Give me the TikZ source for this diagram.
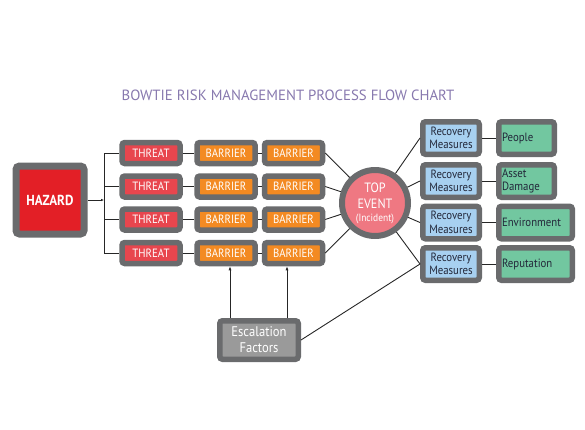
\documentclass[tikz,border=0pt]{standalone}
\usepackage{fontspec}
\setmainfont{PT Sans}
\newfontfamily\condfont[FakeStretch=0.9]{PT Sans}
\usetikzlibrary{arrows.meta}

\definecolor{framegray}{HTML}{6A6B6D}
\definecolor{hazardred}{HTML}{E31F26}
\definecolor{threatred}{HTML}{E8464E}
\definecolor{barrierorange}{HTML}{F38A22}
\definecolor{eventpink}{HTML}{EF7882}
\definecolor{recblue}{HTML}{A7D0F0}
\definecolor{conseqgreen}{HTML}{72C7A0}
\definecolor{escgray}{HTML}{9A9A9A}
\definecolor{titlepurple}{HTML}{8778AE}
\definecolor{darktext}{HTML}{23283A}

\tikzset{
  box/.style={draw=framegray, line width=5.5pt, rounded corners=2.75pt, inner sep=0pt,
    minimum width=58pt, minimum height=21pt, text=white,
    font=\condfont\fontsize{12}{13}\selectfont},
  threat/.style={box, fill=threatred},
  barrier/.style={box, fill=barrierorange},
  recovery/.style={box, fill=recblue, text=darktext, align=center,
    minimum width=56.5pt, minimum height=32.5pt, font=\condfont\fontsize{12}{13.5}\selectfont},
  conseq/.style={box, fill=conseqgreen, text=darktext, align=left, text width=49pt,
    minimum width=55.5pt, minimum height=32.5pt, font=\condfont\fontsize{12}{13.5}\selectfont},
  wideconseq/.style={conseq, text width=67pt, minimum width=73.5pt},
  link/.style={draw=black!85, line width=0.9pt},
  uparrow/.style={link, -{Latex[length=4pt,width=3pt]}}
}

\begin{document}
\begin{tikzpicture}[x=1pt, y=-1pt]

  \useasboundingbox (0,0) rectangle (585,429);

  \node [text=titlepurple, font=\fontsize{14.8}{15}\selectfont] (title) at (288,95)
    {BOWTIE RISK MANAGEMENT PROCESS FLOW CHART};

  % left side
  \node [box, fill=hazardred, line width=7pt, rounded corners=3.5pt, minimum width=68pt,
    minimum height=68pt, font=\condfont\bfseries\fontsize{14.5}{15}\selectfont] (hazard) at (50,200) {HAZARD};
  \coordinate (bus) at (104,200);

  \foreach \row/\y in {1/153, 2/186.5, 3/219.5, 4/253} {
    \node [threat] (t\row) at (151,\y) {THREAT};
    \node [barrier] (ba\row) at (226,\y) {BARRIER};
    \node [barrier] (bb\row) at (293.5,\y) {BARRIER};
  }

  % top event
  \node [circle, draw=framegray, fill=eventpink, line width=6pt, minimum size=66pt, inner sep=0pt,
    text=white, align=center, font=\condfont\fontsize{13.5}{16}\selectfont] (event) at (375,203)
    {TOP\\EVENT\\[-3pt]{\fontsize{10.5}{11}\selectfont(Incident)}};

  % right side
  \node [recovery] (r1) at (451,138) {Recovery\\Measures};
  \node [recovery] (r2) at (451,181) {Recovery\\Measures};
  \node [recovery] (r3) at (451,222.5) {Recovery\\Measures};
  \node [recovery] (r4) at (451,264) {Recovery\\Measures};

  \node [conseq] (c1) at (526.5,138) {People};
  \node [conseq] (c2) at (526.5,181) {Asset\\Damage};
  \node [wideconseq] (c3) at (535.5,222.5) {Environment};
  \node [wideconseq] (c4) at (535.5,264) {Reputation};

  \node [box, fill=escgray, align=center, minimum width=78.5pt, minimum height=38.5pt,
    font=\condfont\fontsize{14}{16}\selectfont] (esc) at (259,340) {Escalation\\Factors};

  % connectors
  \draw [link, -{Latex[length=3pt,width=2.5pt]}] (hazard) -- (bus);
  \draw [link] (bus |- t1.west) -- (bus |- t4.west);
  \foreach \row in {1,...,4} {
    \draw [link] (bus |- t\row.west) -- (t\row.west);
    \draw [link] (t\row) -- (ba\row);
    \draw [link] (ba\row) -- (bb\row);
    \draw [link] (bb\row.east) -- (event);
    \draw [link] (event) -- (r\row.west);
    \draw [link] (r\row) -- (c\row);
  }

  \draw [uparrow] ([xshift=-29pt]esc.north) -- ([xshift=-29pt]esc.north |- ba4.south);
  \draw [uparrow] ([xshift=28pt]esc.north) -- ([xshift=28pt]esc.north |- bb4.south);
  \draw [link] (esc.east) -- (r4.west);

\end{tikzpicture}
\end{document}
